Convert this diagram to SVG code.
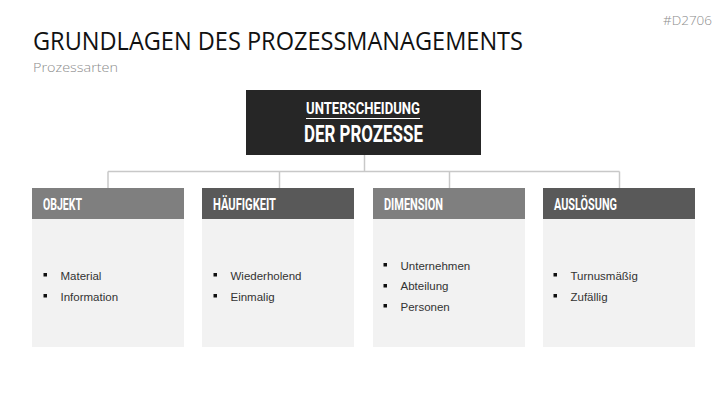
<svg xmlns="http://www.w3.org/2000/svg" width="727" height="409" viewBox="0 0 727 409">
  <style>
    .title { font-family: "Open Sans", "Liberation Sans", sans-serif; font-weight: 400; fill: #111; }
    .sub { font-family: "Open Sans", "Liberation Sans", sans-serif; font-weight: 300; fill: #8c8c8c; }
    .cond { font-family: Roboto, "Liberation Sans", sans-serif; font-weight: bold; fill: #fff; }
    .item { font-family: "Liberation Sans", Arial, sans-serif; font-size: 11.5px; fill: #333; }
    .bullet { fill: #111; }
    .body { fill: #f2f2f2; }
    .conn { stroke: #c8c8c8; stroke-width: 1.5; fill: none; }
  </style>

  <rect width="727" height="409" fill="#ffffff"/>

  <text class="sub" x="712" y="25" font-size="13.5" text-anchor="end" textLength="49" lengthAdjust="spacingAndGlyphs">#D2706</text>
  <text class="title" x="33" y="50" font-size="25" textLength="490" lengthAdjust="spacingAndGlyphs">GRUNDLAGEN DES PROZESSMANAGEMENTS</text>
  <text class="sub" x="33" y="72" font-size="13.5" textLength="85" lengthAdjust="spacingAndGlyphs">Prozessarten</text>

  <g id="connectors">
    <line class="conn" x1="364.5" y1="155" x2="364.5" y2="171.5"/>
    <line class="conn" x1="108" y1="171.5" x2="619.5" y2="171.5"/>
    <line class="conn" x1="108" y1="171.5" x2="108" y2="188"/>
    <line class="conn" x1="279.5" y1="171.5" x2="279.5" y2="188"/>
    <line class="conn" x1="449.5" y1="171.5" x2="449.5" y2="188"/>
    <line class="conn" x1="619.5" y1="171.5" x2="619.5" y2="188"/>
  </g>

  <g id="root">
    <rect x="246" y="90" width="235" height="65" fill="#262626"/>
    <text class="cond" x="363" y="114" font-size="16.5" text-anchor="middle" textLength="114" lengthAdjust="spacingAndGlyphs">UNTERSCHEIDUNG</text>
    <line x1="306" y1="118.5" x2="420" y2="118.5" stroke="#fff" stroke-width="1"/>
    <text class="cond" x="363.5" y="141.5" font-size="24" text-anchor="middle" textLength="119" lengthAdjust="spacingAndGlyphs">DER PROZESSE</text>
  </g>

  <g id="objekt">
    <rect x="32" y="188" width="152" height="31" fill="#7f7f7f"/>
    <rect class="body" x="32" y="219" width="152" height="128"/>
    <text class="cond" x="43" y="210" font-size="16.5" textLength="39" lengthAdjust="spacingAndGlyphs">OBJEKT</text>
    <rect class="bullet" x="43.5" y="273" width="3.5" height="3.5"/>
    <text class="item" x="60.5" y="279.5">Material</text>
    <rect class="bullet" x="43.5" y="294" width="3.5" height="3.5"/>
    <text class="item" x="60.5" y="300.5">Information</text>
  </g>

  <g id="haeufigkeit">
    <rect x="202" y="188" width="152" height="31" fill="#595959"/>
    <rect class="body" x="202" y="219" width="152" height="128"/>
    <text class="cond" x="213" y="210" font-size="16.5" textLength="63" lengthAdjust="spacingAndGlyphs">HÄUFIGKEIT</text>
    <rect class="bullet" x="213.5" y="273" width="3.5" height="3.5"/>
    <text class="item" x="230.5" y="279.5">Wiederholend</text>
    <rect class="bullet" x="213.5" y="294" width="3.5" height="3.5"/>
    <text class="item" x="230.5" y="300.5">Einmalig</text>
  </g>

  <g id="dimension">
    <rect x="373" y="188" width="152" height="31" fill="#7f7f7f"/>
    <rect class="body" x="373" y="219" width="152" height="128"/>
    <text class="cond" x="384" y="210" font-size="16.5" textLength="59" lengthAdjust="spacingAndGlyphs">DIMENSION</text>
    <rect class="bullet" x="383.5" y="263" width="3.5" height="3.5"/>
    <text class="item" x="400.5" y="269.5">Unternehmen</text>
    <rect class="bullet" x="383.5" y="284" width="3.5" height="3.5"/>
    <text class="item" x="400.5" y="290">Abteilung</text>
    <rect class="bullet" x="383.5" y="304" width="3.5" height="3.5"/>
    <text class="item" x="400.5" y="310.5">Personen</text>
  </g>

  <g id="ausloesung">
    <rect x="543" y="188" width="152" height="31" fill="#595959"/>
    <rect class="body" x="543" y="219" width="152" height="128"/>
    <text class="cond" x="554" y="210" font-size="16.5" textLength="63" lengthAdjust="spacingAndGlyphs">AUSLÖSUNG</text>
    <rect class="bullet" x="553.5" y="273" width="3.5" height="3.5"/>
    <text class="item" x="570.5" y="279.5">Turnusmäßig</text>
    <rect class="bullet" x="553.5" y="294" width="3.5" height="3.5"/>
    <text class="item" x="570.5" y="300.5">Zufällig</text>
  </g>
</svg>
